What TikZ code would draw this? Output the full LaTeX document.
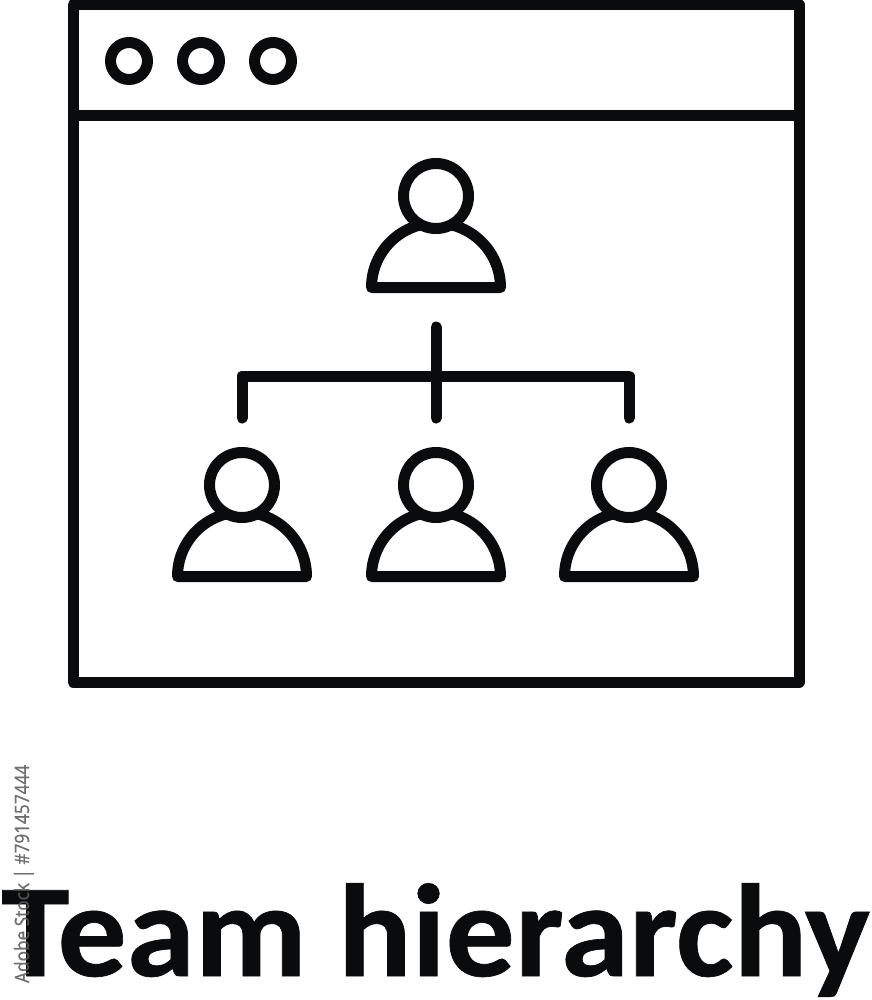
\documentclass[tikz,border=0pt]{standalone}
\usepackage{fontspec}
\setmainfont{Carlito}[BoldFeatures={FakeBold=0.5}]
\newfontfamily\wmfont{Open Sans}[BoldFont=Open Sans,BoldFeatures={FakeBold=0.8}]
\definecolor{ink}{HTML}{0A0B0D}
\tikzset{
  x=1pt,y=-1pt,
  iconline/.style={draw=ink,line width=11pt,line cap=round,line join=round},
  dotnode/.style={circle,draw=ink,line width=11pt,fill=white,minimum size=37pt,inner sep=0pt},
  headnode/.style={circle,draw=ink,line width=11pt,fill=white,minimum size=65pt,inner sep=0pt},
  person/.pic={
    \draw[iconline,fill=white] (-64.5,0) arc[start angle=180,end angle=360,radius=64.5] -- cycle;
    \node[headnode] (-head) at (0,-91.5) {};
  }
}
\begin{document}
\begin{tikzpicture}
\useasboundingbox (0,0) rectangle (871,1000);
\fill[white] (0,0) rectangle (871,1000);
% window
\coordinate (wtl) at (73,5);
\coordinate (wbr) at (799,682);
\coordinate (hl) at (73,116);
\coordinate (hr) at (799,116);
\draw[iconline] (wtl) rectangle (wbr);
\draw[iconline,line cap=butt] (hl) -- (hr);
\node[dotnode] (d1) at (129,61) {};
\node[dotnode] (d2) at (201,61) {};
\node[dotnode] (d3) at (273,61) {};
% people
\pic (top) at (436,287.5) {person};
\pic (left) at (242,576.5) {person};
\pic (mid) at (436,576.5) {person};
\pic (right) at (629,576.5) {person};
% connectors
\coordinate (stemtop) at (436,327);
\coordinate (stembot) at (436,418);
\coordinate (ldrop) at (242,418);
\coordinate (rdrop) at (629,418);
\coordinate (lcorner) at (242,376);
\coordinate (rcorner) at (629,376);
\draw[iconline] (stemtop) -- (stembot);
\draw[iconline] (ldrop) -- (lcorner) -- (rcorner) -- (rdrop);
% title
\node[anchor=base west,inner sep=0pt,text=ink,font=\bfseries] (title) at (1,976)
  {\scalebox{1}[0.96]{\resizebox{869pt}{!}{\fontsize{137pt}{137pt}\selectfont Team hierarchy}}};
% stock label
\node[anchor=base west,rotate=90,inner sep=0pt,text=black!65,font=\wmfont\bfseries\fontsize{20pt}{20pt}\selectfont,opacity=.85] (stock) at (29,983)
  {\resizebox{218pt}{15pt}{Adobe Stock | \#791457444}};
\end{tikzpicture}
\end{document}
